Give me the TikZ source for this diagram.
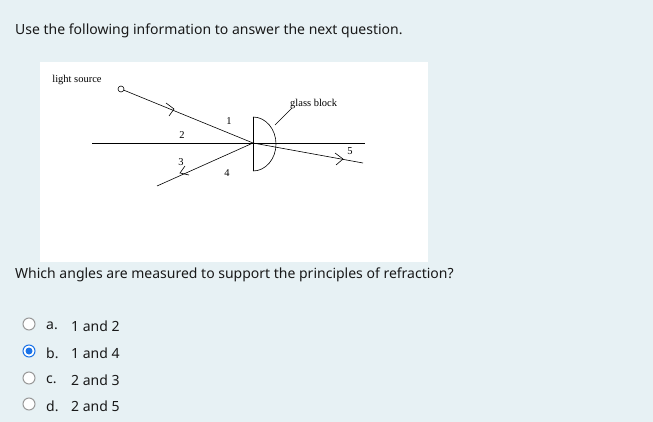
\documentclass[tikz,border=0pt]{standalone}
\usepackage{fontspec}
\setmainfont{Noto Sans}
\newfontfamily\serifd{Liberation Serif}
\usetikzlibrary{arrows.meta}
\definecolor{bg}{HTML}{E7F1F4}
\definecolor{radio}{HTML}{1A73E8}
\begin{document}
\begin{tikzpicture}[x=1pt,y=-1pt,
  ui/.style={anchor=west,inner sep=0pt,font=\fontsize{14}{16}\selectfont,text=black!90,yshift=-2pt},
  lab/.style={inner sep=0pt,font=\serifd\fontsize{10.5}{11}\selectfont},
  ray/.style={line width=0.6pt},
  chev/.style={line width=0.6pt},
  rad/.style={circle,draw=gray!80,line width=1pt,fill=white,minimum size=12pt,inner sep=0pt}]
\fill[bg] (0,0) rectangle (653,422);
\useasboundingbox (0,0) rectangle (653,422);
\node[ui] (q1) at (15,29) {Use the following information to answer the next question.};
\fill[white] (40,62) rectangle (428,262);
% diagram
\coordinate (P) at (253,143);
\node[circle,draw,minimum size=6pt,inner sep=0pt,line width=0.6pt] (src) at (121,89) {};
\draw[ray] (src) -- (P);
\draw[ray] (92,143) coordinate (nl) -- (365,143) coordinate (nr);
\coordinate (R) at (363,163);
\draw[ray] (P) -- (R);
\coordinate (F) at (157,186);
\draw[ray] (P) -- (F);
\draw[ray] (253,117) -- (253,171);
\draw[ray] (253,117) arc[start angle=-90,end angle=90,x radius=23,y radius=27];
% chevrons
\draw[chev] (166,103) -- (174,109) -- (169,116);
\draw[chev] (335,153) -- (343,159) -- (336,165);
\draw[chev] (185,166) -- (180,173) -- (189,175);
\node[lab,anchor=west] (gb) at (290,104) {glass block};
\draw[ray] (292,108) -- (275,125);
\node[lab] (ls) at (77,80) {light source};
\node[lab] (n1) at (229,121) {1};
\node[lab] (n2) at (182,135) {2};
\node[lab] (n3) at (181,162) {3};
\node[lab] (n4) at (227,173) {4};
\node[lab] (n5) at (350,151) {5};
\node[ui] (q2) at (15,273) {Which angles are measured to support the principles of refraction?};
% options
\node[rad] (ra) at (29,324) {};
\node[rad,draw=radio] (rb) at (29,351) {};
\fill[radio] (rb) circle (3.5pt);
\node[rad] (rc) at (29,378) {};
\node[rad] (rd) at (29,404) {};
\node[ui] (la) at (46,324) {a.}; \node[ui] (ta) at (71,324) {1 and 2};
\node[ui] (lb) at (46,351) {b.}; \node[ui] (tb) at (71,351) {1 and 4};
\node[ui] (lc) at (46,378) {c.}; \node[ui] (tc) at (71,378) {2 and 3};
\node[ui] (ld) at (46,404) {d.}; \node[ui] (td) at (71,404) {2 and 5};
\end{tikzpicture}
\end{document}
